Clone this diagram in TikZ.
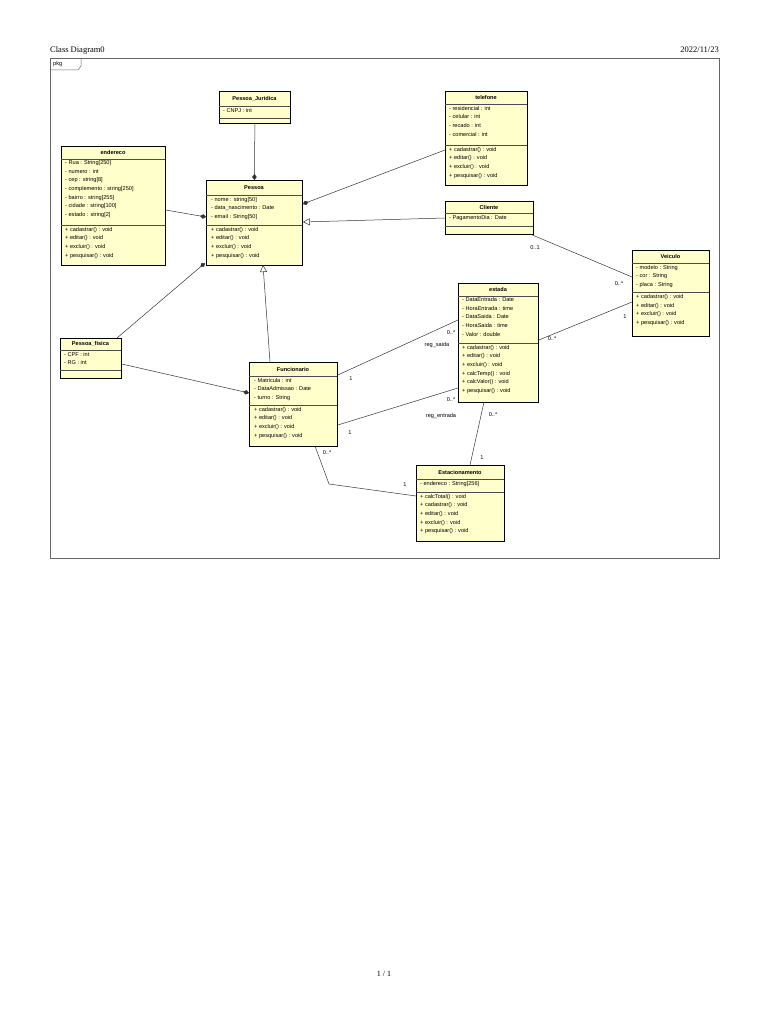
\documentclass[tikz,border=0pt]{standalone}
\usepackage{fontspec}
\setmainfont{Liberation Sans}
\newfontfamily\serifhead{Liberation Serif}
\usetikzlibrary{calc}
\definecolor{clsfill}{HTML}{FFFFCC}
\tikzset{
 x=1pt,y=-1pt,
 cls/.style={draw=black,line width=0.8pt,fill=clsfill,inner sep=0pt},
 sep/.style={draw=black!70,line width=0.4pt},
 ttl/.style={font=\fontsize{5.6}{6}\selectfont\bfseries,inner sep=0pt},
 mem/.style={font=\fontsize{5.6}{8.6}\selectfont,align=left,anchor=north west,inner sep=0pt},
 lnk/.style={draw=black!80,line width=0.5pt},
 comp/.style={lnk,-{Diamond[length=6pt,width=4.5pt]}},
 gen/.style={lnk,-{Triangle[open,length=7pt,width=7pt,fill=white]}},
 lbl/.style={font=\fontsize{5.6}{6}\selectfont,inner sep=0pt}
}
\usetikzlibrary{arrows.meta}
\newcommand{\umlcls}[8]{%
 \node[cls,anchor=north west,minimum width=#4-#2,minimum height=#5-#3] (#1) at (#2,#3) {};
 \draw[sep] (#2,#6) -- (#4,#6);
 \draw[sep] (#2,#7) -- (#4,#7);
 \node[ttl] (#1-t) at ({(#2+#4)/2},{(#3+#6)/2}) {#8};
}
\begin{document}
\begin{tikzpicture}
\useasboundingbox (0,0) rectangle (768,1024);
\fill[white] (0,0) rectangle (768,1024);
\node[font=\serifhead\fontsize{8.5}{10}\selectfont,anchor=west,inner sep=0pt] (hdr) at (50,50) {Class Diagram0};
\node[font=\serifhead\fontsize{8.5}{10}\selectfont,anchor=east,inner sep=0pt] (date) at (719,50) {2022/11/23};
\node[font=\serifhead\fontsize{8}{10}\selectfont,inner sep=0pt] (pg) at (384,974) {1 / 1};
\draw[black!60,line width=0.5pt] (50,58) rectangle (719,558);
\draw[black!60,line width=0.5pt] (50,70) -- (78,70) -- (81,66) -- (81,58);
\node[lbl,anchor=west] (pkg) at (53,64) {pkg};

\umlcls{pj}{219}{91}{290}{123}{106}{118}{Pessoa\_Juridica}
\node[mem] at (223,108) {- CNPJ : int};

\umlcls{end}{61}{146}{165}{265}{159}{225}{endereco}
\node[mem] at (65,160.5) {- Rua : String[250]\\- numero : int\\- cep : string[8]\\- complemento : string[250]\\- bairro : string[255]\\- cidade : string[100]\\- estado : string[2]};
\node[mem] at (65,227) {+ cadastrar() : void\\+ editar() : void\\+ excluir() : void\\+ pesquisar() : void};

\umlcls{pes}{206}{180}{302}{265}{195}{225}{Pessoa}
\node[mem] at (211,197) {- nome : string[50]\\- data\_nascimento : Date\\- email : String[50]};
\node[mem] at (211,227) {+ cadastrar() : void\\+ editar() : void\\+ excluir() : void\\+ pesquisar() : void};

\umlcls{tel}{445}{91}{527}{185}{104}{145}{telefone}
\node[mem] at (449,106) {- residencial : int\\- celular : int\\- recado : int\\- comercial : int};
\node[mem] at (449,147) {+ cadastrar() : void\\+ editar() : void\\+ excluir() : void\\+ pesquisar() : void};

\umlcls{cli}{445}{201}{533}{234}{213}{226}{Cliente}
\node[mem] at (449,215) {- PagamentoDia : Date};

\umlcls{vei}{632}{250}{709}{336}{263}{292}{Veiculo}
\node[mem] at (636,265) {- modelo : String\\- cor : String\\- placa : String};
\node[mem] at (636,294.5) {+ cadastrar() : void\\+ editar() : void\\+ excluir() : void\\+ pesquisar() : void};

\umlcls{est}{458}{283}{538}{402}{296}{343}{estada}
\node[mem] at (462,297.5) {- DataEntrada : Date\\- HoraEntrada : time\\- DataSaida : Date\\- HoraSaida : time\\- Valor : double};
\node[mem] at (462,345) {+ cadastrar() : void\\+ editar() : void\\+ excluir() : void\\+ calcTemp() : void\\+ calcValor() : void\\+ pesquisar() : void};

\umlcls{pf}{60}{338}{121}{378}{350}{370}{Pessoa\_fisica}
\node[mem] at (64,352) {- CPF : int\\- RG : int};

\umlcls{fun}{249}{362}{337}{446}{376}{405}{Funcionario}
\node[mem] at (254,378) {- Matricula : int\\- DataAdmissao : Date\\- turno : String};
\node[mem] at (254,407) {+ cadastrar() : void\\+ editar() : void\\+ excluir() : void\\+ pesquisar() : void};

\umlcls{estac}{416}{465}{504}{541}{479}{492}{Estacionamento}
\node[mem] at (420,481) {- endereco : String[256]};
\node[mem] at (420,494) {+ calcTotal() : void\\+ cadastrar() : void\\+ editar() : void\\+ excluir() : void\\+ pesquisar() : void};

\draw[comp] (pj.south) -- (pes.north);
\draw[comp] (end.east |- 0,210) -- (pes.west |- 0,217);
\draw[comp] (tel.west |- 0,150) -- (pes.east |- 0,204);
\draw[gen] (cli.west |- 0,218) -- (pes.east |- 0,222);
\draw[gen] (270,362) -- (263,265);
\draw[comp] (117,338) -- (205,263);
\draw[comp] (pf.east |- 0,364) -- (fun.west |- 0,393);
\draw[lnk] (530,234) -- (vei.west |- 0,277);
\draw[lnk] (est.east |- 0,340) -- (vei.west |- 0,302);
\draw[lnk] (fun.east |- 0,375) -- (est.west |- 0,320);
\draw[lnk] (fun.east |- 0,425) -- (est.west |- 0,388);
\draw[lnk] (484,402) -- (470,465);
\draw[lnk] (315,446) -- (329,484) -- (estac.west |- 0,496);

\node[lbl] at (535,248) {0..1};
\node[lbl] at (619,284) {0..*};
\node[lbl] at (552,339) {0..*};
\node[lbl] at (625,317) {1};
\node[lbl] at (351,379) {1};
\node[lbl] at (451,333) {0..*};
\node[lbl] at (437,345) {reg\_saida};
\node[lbl] at (350,433) {1};
\node[lbl] at (451,400) {0..*};
\node[lbl] at (441,416) {reg\_entrada};
\node[lbl] at (493,415) {0..*};
\node[lbl] at (482,458) {1};
\node[lbl] at (327,453) {0..*};
\node[lbl] at (405,485) {1};
\end{tikzpicture}
\end{document}
